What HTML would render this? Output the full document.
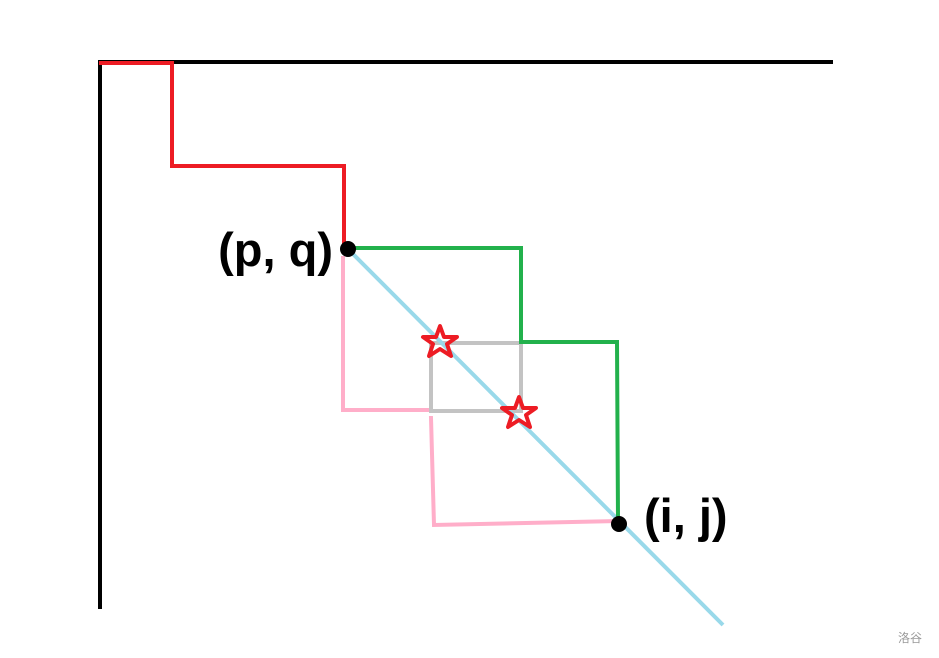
<!DOCTYPE html>
<html><head><style>body{margin:0;background:#fff}svg{display:block}</style></head><body>
<svg width="939" height="658" xmlns="http://www.w3.org/2000/svg">
<rect width="939" height="658" fill="#fff"/>
<g fill="none" stroke-linecap="square" stroke-linejoin="miter">
<polyline points="100,607 100,62 831,62" stroke="#000" stroke-width="4"/>
<polyline points="101,63 172,63 172,166 344,166 344,245" stroke="#ed1c24" stroke-width="4"/>
<polyline points="343,258 343,408" stroke="#ffaec9" stroke-width="4"/>
<polyline points="343,410 431,410" stroke="#ffaec9" stroke-width="4"/>
<polyline points="431,418 434,525 617,521" stroke="#ffaec9" stroke-width="4"/>
<rect x="431" y="343" width="90" height="68" stroke="#c3c3c3" stroke-width="4"/>
<line x1="348" y1="249" x2="723" y2="625" stroke="#99d9ea" stroke-width="4" stroke-linecap="butt"/>
<polyline points="350,248 521,248 521,342 617,342 618,520" stroke="#22b14c" stroke-width="4"/>
</g>
<g fill="none" stroke="#ed1c24" stroke-width="4" stroke-linejoin="round">
<polygon points="440,326 444,337 457,337 447,344 451,356 440,349 429,356 433,344 423,337 436,337"/>
<polygon points="519,397 523,408 536,408 526,415 530,427 519,420 508,427 512,415 502,408 515,408"/>
</g>
<circle cx="348" cy="249" r="8" fill="#000"/>
<circle cx="619" cy="524" r="8" fill="#000"/>
<text x="333" y="266" text-anchor="end" font-family="Liberation Sans, sans-serif" font-weight="bold" font-size="47">(p, q)</text>
<text x="644" y="532" font-family="Liberation Sans, sans-serif" font-weight="bold" font-size="47">(i, j)</text>
<text x="898" y="642" font-family="Liberation Sans, Noto Sans CJK SC, sans-serif" font-size="12" fill="#999">洛谷</text>
</svg>
</body></html>
